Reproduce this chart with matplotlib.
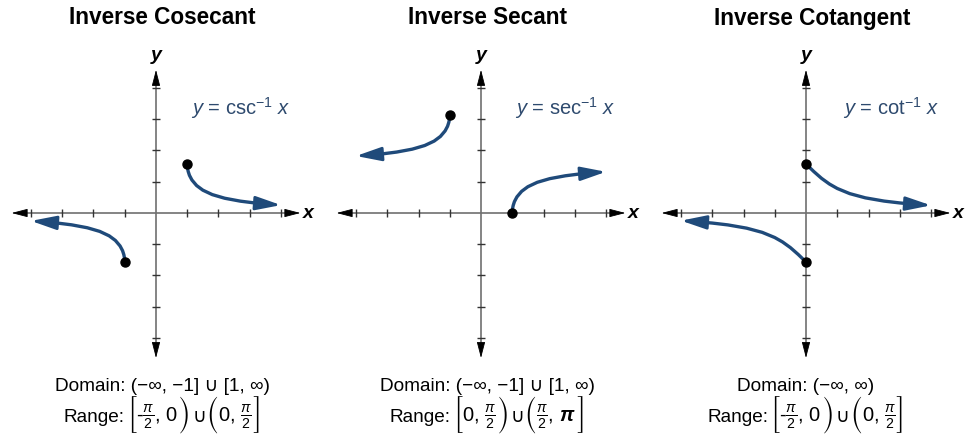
import os
import matplotlib
matplotlib.use("Agg")
from matplotlib import pyplot as plt
from matplotlib.font_manager import FontProperties

plt.rcParams['font.family'] = ['Liberation Sans', 'DejaVu Sans']
plt.rcParams['mathtext.fontset'] = 'custom'
plt.rcParams['mathtext.rm'] = 'Liberation Sans'
plt.rcParams['mathtext.it'] = 'Liberation Sans:italic'
plt.rcParams['mathtext.bf'] = 'Liberation Sans:bold:italic'
plt.rcParams['mathtext.fallback'] = 'stixsans'

# panel texts
titles = ["Inverse Cosecant", "Inverse Secant", "Inverse Cotangent"]
func_labels = [r"$y$ = csc$^{-1}$ $x$", r"$y$ = sec$^{-1}$ $x$", r"$y$ = cot$^{-1}$ $x$"]
domains = ["Domain: (\u2212\u221e, \u22121] \u222a [1, \u221e)",
           "Domain: (\u2212\u221e, \u22121] \u222a [1, \u221e)",
           "Domain: (\u2212\u221e, \u221e)"]
# range line pieces; single bracket characters are drawn tall
ranges = [
    ["Range:", "[", r"-$\frac{\pi}{2}$, 0", ")", "\u222a", "(", r"0, $\frac{\pi}{2}$", "]"],
    ["Range:", "[", r"0, $\frac{\pi}{2}$", ")", "\u222a", "(", r"$\frac{\pi}{2}$, $\mathbf{\pi}$", "]"],
    ["Range:", "[", r"-$\frac{\pi}{2}$, 0", ")", "\u222a", "(", r"0, $\frac{\pi}{2}$", "]"],
]

# curve points (x, y in grid units)
csc_right_x = [1.0, 1.01, 1.03, 1.07, 1.15, 1.3, 1.5, 1.8, 2.2, 2.7, 3.1, 3.5, 4.0]
csc_right_y = [1.571, 1.429, 1.330, 1.206, 1.055, 0.878, 0.730, 0.589, 0.472, 0.379, 0.329, 0.290, 0.253]
csc_left_x = [-1.0, -1.01, -1.03, -1.07, -1.15, -1.3, -1.5, -1.8, -2.2, -2.7, -3.1, -3.5, -4.0]
csc_left_y = [-1.571, -1.429, -1.330, -1.206, -1.055, -0.878, -0.730, -0.589, -0.472, -0.379, -0.329, -0.290, -0.253]

sec_right_x = [1.0, 1.01, 1.03, 1.07, 1.15, 1.3, 1.5, 1.8, 2.2, 2.7, 3.1, 3.5, 4.0]
sec_right_y = [0.0, 0.141, 0.241, 0.365, 0.516, 0.693, 0.841, 0.982, 1.099, 1.191, 1.242, 1.281, 1.318]
sec_left_x = [-1.0, -1.01, -1.03, -1.07, -1.15, -1.3, -1.5, -1.8, -2.2, -2.7, -3.1, -3.5, -4.0]
sec_left_y = [3.142, 3.000, 2.900, 2.776, 2.626, 2.449, 2.301, 2.160, 2.043, 1.950, 1.899, 1.861, 1.824]

cot_right_x = [0.0, 0.1, 0.25, 0.5, 0.75, 1.0, 1.4, 1.9, 2.5, 3.0, 3.5, 4.0]
cot_right_y = [1.571, 1.471, 1.326, 1.107, 0.927, 0.785, 0.620, 0.485, 0.381, 0.322, 0.278, 0.245]
cot_left_x = [0.0, -0.1, -0.25, -0.5, -0.75, -1.0, -1.4, -1.9, -2.5, -3.0, -3.5, -4.0]
cot_left_y = [-1.571, -1.471, -1.326, -1.107, -0.927, -0.785, -0.620, -0.485, -0.381, -0.322, -0.278, -0.245]

branches = [
    [(csc_right_x, csc_right_y), (csc_left_x, csc_left_y)],
    [(sec_right_x, sec_right_y), (sec_left_x, sec_left_y)],
    [(cot_right_x, cot_right_y), (cot_left_x, cot_left_y)],
]

ticks = [-4, -3, -2, -1, 1, 2, 3, 4]

W, H = 975, 444
UNIT = 31.25
origins_x = [156, 481, 806]
origin_y = 213
title_cx = [162.5, 487.5, 812]
text_cx = [162.5, 487.5, 806]
label_cx = [241, 565, 891]

curve_color = '#1f4a7a'
label_color = '#2e4a6e'
axis_color = '#707070'

big_delim = FontProperties(fname=os.path.join(matplotlib.get_data_path(),
                                              'fonts', 'ttf', 'STIXSizTwoSymReg.ttf'))

fig = plt.figure(figsize=(W / 100, H / 100), dpi=100)
renderer = fig.canvas.get_renderer()


def range_row(parts, cx, base_y):
    items = []
    for k, s in enumerate(parts):
        if s in "[]()":
            t = fig.text(0, 1 - (base_y - 7) / H, s, fontproperties=big_delim,
                         fontsize=14.5, ha='left', va='center')
            gap = 2 if s == ')' else 0
        elif '$' in s:
            t = fig.text(0, 1 - base_y / H, s, fontsize=14.5, ha='left', va='baseline')
            gap = 0
        else:
            t = fig.text(0, 1 - base_y / H, s, fontsize=13.7, ha='left', va='baseline')
            gap = 2 if k == 0 else 0
        w = t.get_window_extent(renderer).width
        items.append((t, w, gap))
    total = sum(w + g for _, w, g in items) - items[-1][2]
    x = cx - total / 2
    for t, w, g in items:
        t.set_x(x / W)
        x += w + g


xlo, xhi = -4.95, 4.95
ylo, yhi = -5.4, 6.6

for i in range(3):
    ox = origins_x[i]
    left = ox + xlo * UNIT
    width = (xhi - xlo) * UNIT
    top = origin_y - yhi * UNIT
    height = (yhi - ylo) * UNIT
    ax = fig.add_axes([left / W, (H - top - height) / H, width / W, height / H])
    ax.set_xlim(xlo, xhi)
    ax.set_ylim(ylo, yhi)
    ax.axis('off')

    # axes lines
    ax.plot([-4.3, 4.3], [0, 0], color=axis_color, lw=1.2, zorder=1)
    ax.plot([0, 0], [-4.3, 4.3], color=axis_color, lw=1.2, zorder=1)
    head = dict(arrowstyle='-|>,head_length=1.0,head_width=0.26', color='black',
                lw=0.6, shrinkA=0, shrinkB=0, mutation_scale=10)
    ax.annotate('', xy=(4.62, 0), xytext=(4.25, 0), arrowprops=head)
    ax.annotate('', xy=(-4.62, 0), xytext=(-4.25, 0), arrowprops=head)
    ax.annotate('', xy=(0, 4.58), xytext=(0, 4.2), arrowprops=head)
    ax.annotate('', xy=(0, -4.64), xytext=(0, -4.25), arrowprops=head)
    ax.vlines(ticks, -0.12, 0.12, color='#333333', lw=1.0, zorder=1)
    ax.hlines(ticks, -0.12, 0.12, color='#333333', lw=1.0, zorder=1)

    ax.text(4.88, -0.02, 'x', fontsize=14, fontweight='bold', fontstyle='italic',
            ha='center', va='center')
    ax.text(0, 5.05, 'y', fontsize=14, fontweight='bold', fontstyle='italic',
            ha='center', va='center')

    for bx, by in branches[i]:
        ax.plot(bx[:-1], by[:-1], color=curve_color, lw=2.4, zorder=3,
                solid_capstyle='butt')
        ax.annotate('', xy=(bx[-1], by[-1]), xytext=(bx[-2], by[-2]),
                    arrowprops=dict(arrowstyle='-|>,head_length=1.4,head_width=0.38',
                                    color=curve_color, lw=2.0, shrinkA=0, shrinkB=0,
                                    mutation_scale=11))
        ax.plot(bx[0], by[0], 'o', color='black', ms=6.5, zorder=5)

    fig.text(label_cx[i] / W, 1 - 108 / H, func_labels[i], fontsize=14.5,
             color=label_color, ha='center', va='center')
    fig.text(title_cx[i] / W, 1 - 18 / H, titles[i], fontsize=16.3,
             fontweight='bold', ha='center', va='center')
    fig.text(text_cx[i] / W, 1 - 386 / H, domains[i], fontsize=13.7,
             ha='center', va='center')
    range_row(ranges[i], text_cx[i], 422)

fig.savefig('out.png', dpi=100)
